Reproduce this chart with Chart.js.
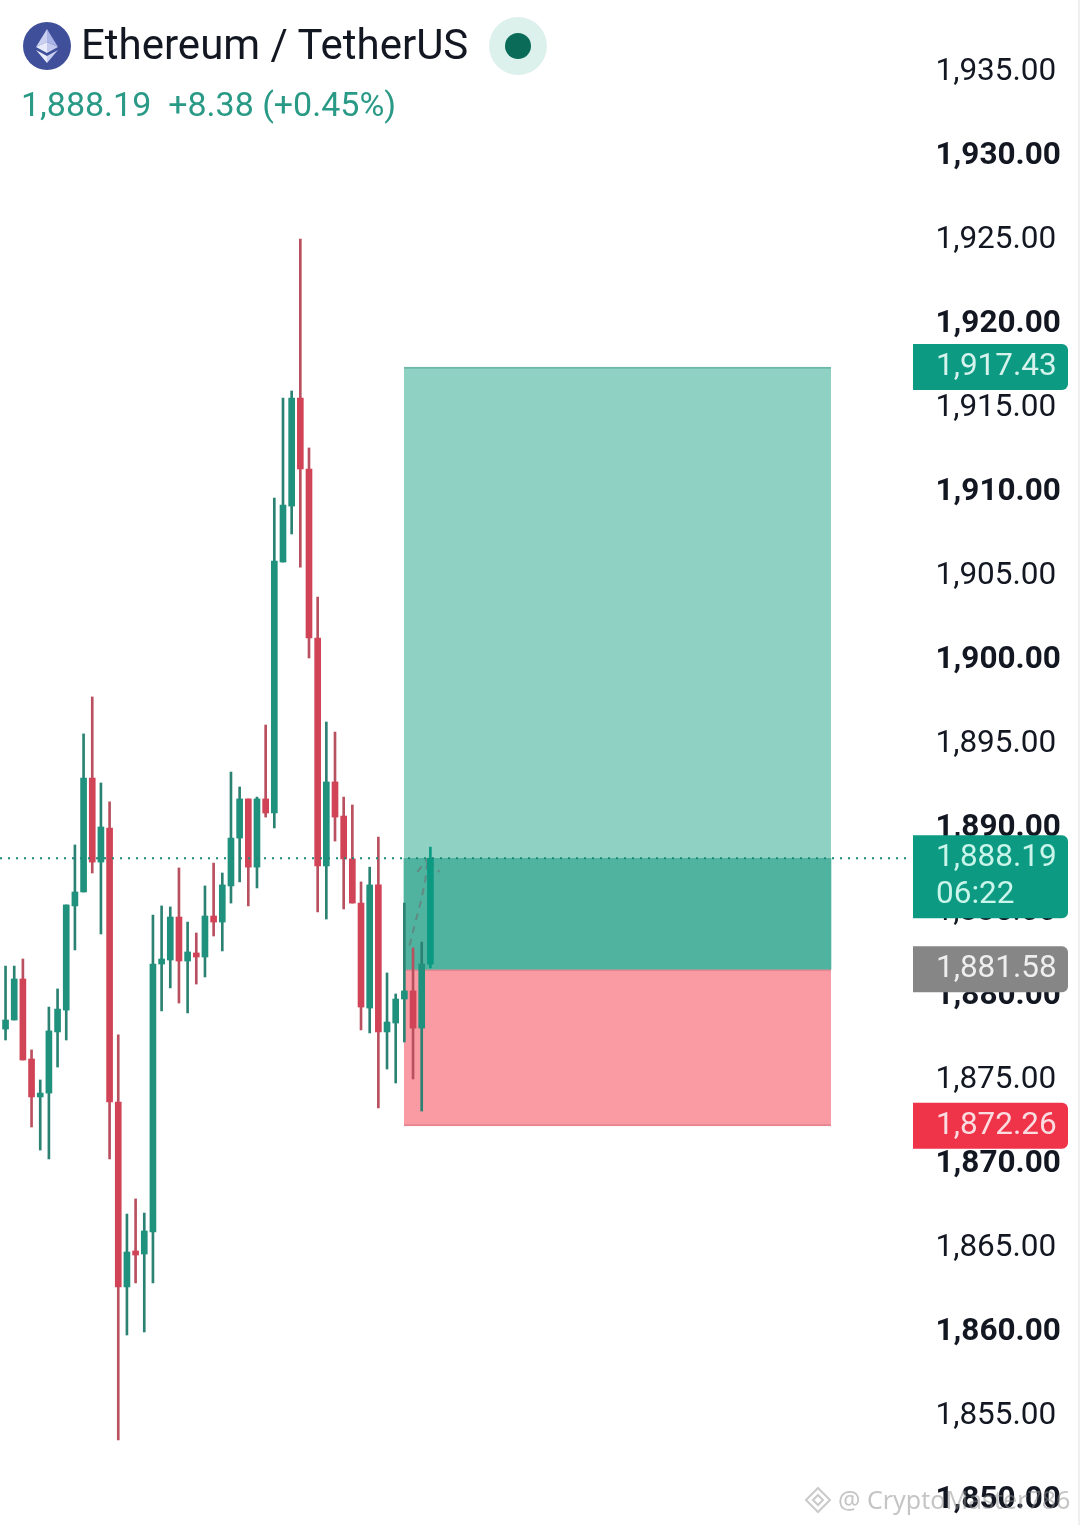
<!DOCTYPE html>
<html>
<head>
<meta charset="utf-8">
<title>Ethereum / TetherUS</title>
<script src="https://cdn.jsdelivr.net/npm/chart.js@4"></script>
<style>
  html, body { margin: 0; padding: 0; background: #fff; }
  #page { position: relative; width: 1080px; height: 1525px; overflow: hidden; font-family: Roboto, sans-serif; }
  #chart { position: absolute; left: 0; top: 0; }
  .abs { position: absolute; white-space: pre; }
  #title { left: 81px; top: 20px; font-size: 42px; line-height: 50px; color: #131722; }
  #quote { left: 21px; top: 84px; font-size: 34px; line-height: 40px; color: #2a9a87; }
  #mark { left: 838px; top: 1484px; font-family: "Noto Sans", sans-serif; font-size: 25px; line-height: 30px; color: rgba(140,140,140,.5); }
  #edge { position: absolute; right: 0; top: 0; width: 2px; height: 1525px; background: #efefef; }
</style>
</head>
<body>
<div id="page">
  <canvas id="chart" width="1080" height="1525"></canvas>
  <svg class="abs" style="left:22px;top:21px" width="50" height="50" viewBox="0 0 50 50">
    <circle cx="25" cy="25" r="24" fill="#3f4f99"/>
    <polygon points="25,8 14,26 25,21" fill="#c9cff0"/>
    <polygon points="25,8 36,26 25,21" fill="#a9b3e6"/>
    <polygon points="25,21 14,26 25,32" fill="#e8ebfa"/>
    <polygon points="25,21 36,26 25,32" fill="#c3caee"/>
    <polygon points="14,29 25,42 25,35" fill="#e8ebfa"/>
    <polygon points="36,29 25,42 25,35" fill="#c9cff0"/>
  </svg>
  <div id="title" class="abs">Ethereum / TetherUS</div>
  <svg class="abs" style="left:489px;top:17px" width="58" height="58" viewBox="0 0 58 58">
    <circle cx="29" cy="29" r="29" fill="#dcf1ec"/>
    <circle cx="29" cy="29" r="13" fill="#0a6b58"/>
  </svg>
  <div id="quote" class="abs">1,888.19  +8.38 (+0.45%)</div>
  <svg class="abs" style="left:804px;top:1486px" width="28" height="28" viewBox="0 0 28 28" fill="none" stroke="rgba(150,150,150,.5)" stroke-width="2">
    <polygon points="14,2 26,14 14,26 2,14"/>
    <polygon points="14,9 19,14 14,19 9,14"/>
  </svg>
  <div id="mark" class="abs">@ CryptoMaster786</div>
  <div id="edge"></div>
</div>
<script>
// Velas, de izquierda a derecha
const opens = [1878.02, 1878.56, 1881.00, 1876.24, 1873.98, 1874.21, 1877.85, 1879.15, 1885.35, 1886.18,
  1892.96, 1887.96, 1889.99, 1873.68, 1862.67, 1864.81, 1864.63, 1865.94, 1881.89, 1882.13,
  1884.69, 1882.07, 1882.55, 1882.31, 1884.75, 1884.39, 1886.54, 1889.39, 1891.72, 1887.66,
  1891.72, 1890.88, 1905.82, 1909.15, 1915.58, 1911.36, 1901.30, 1887.73, 1892.73, 1890.70,
  1888.15, 1885.52, 1879.27, 1886.60, 1877.85, 1878.38, 1879.81, 1880.29, 1878.08, 1881.89];
const highs = [1881.77, 1881.77, 1882.19, 1876.78, 1874.99, 1879.33, 1880.41, 1885.41, 1888.98, 1895.59,
  1897.79, 1892.67, 1891.54, 1877.67, 1867.01, 1867.91, 1867.07, 1884.81, 1885.35, 1885.29,
  1887.61, 1884.39, 1883.74, 1886.54, 1887.90, 1887.31, 1893.32, 1892.43, 1891.72, 1891.83,
  1896.12, 1909.63, 1915.58, 1916.00, 1925.05, 1912.61, 1903.74, 1896.30, 1895.70, 1891.83,
  1891.36, 1886.78, 1887.66, 1889.45, 1881.36, 1880.11, 1885.52, 1882.85, 1883.20, 1888.85];
const lows = [1877.37, 1878.56, 1876.18, 1872.19, 1870.82, 1870.29, 1875.76, 1877.37, 1882.73, 1886.18,
  1887.31, 1883.68, 1870.29, 1853.56, 1859.81, 1862.91, 1859.99, 1862.91, 1879.10, 1880.47,
  1879.57, 1878.98, 1880.70, 1881.12, 1883.56, 1882.67, 1885.52, 1886.78, 1885.35, 1886.42,
  1890.64, 1889.99, 1905.82, 1907.49, 1905.52, 1900.11, 1884.99, 1884.57, 1889.21, 1885.17,
  1885.52, 1877.97, 1877.79, 1873.32, 1875.64, 1874.81, 1877.25, 1875.05, 1873.14, 1881.66];
const closes = [1878.56, 1881.00, 1876.18, 1873.98, 1874.21, 1877.91, 1879.21, 1885.41, 1886.18, 1892.96,
  1887.96, 1890.05, 1873.68, 1862.67, 1864.75, 1864.57, 1866.00, 1881.89, 1882.19, 1884.69,
  1882.07, 1882.61, 1882.31, 1884.75, 1884.39, 1886.60, 1889.39, 1891.72, 1887.66, 1891.72,
  1890.88, 1905.88, 1909.21, 1915.58, 1911.36, 1901.30, 1887.73, 1892.73, 1890.64, 1888.15,
  1885.52, 1879.33, 1886.60, 1877.85, 1878.44, 1879.81, 1880.29, 1878.08, 1881.89, 1888.19];

// Niveles de la posicion larga
const target = 1917.43;
const current = 1888.19;
const entry = 1881.58;
const stop = 1872.26;
const zoneCenter = 70.58;

// Flecha punteada (indice de vela, precio)
const arrowX = [46.6, 47.17, 47.98, 48.44, 48.67, 50.06];
const arrowY = [1882.99, 1884.18, 1885.77, 1886.96, 1888.15, 1887.37];
const headX = [47.5, 48.67];
const headY = [1887.37, 1888.15];

const tickValues = [1935, 1930, 1925, 1920, 1915, 1910, 1905, 1900, 1895, 1890, 1885, 1880, 1875, 1870, 1865, 1860, 1855, 1850];

const fmt = (v) => v.toLocaleString("en-US", { minimumFractionDigits: 2, maximumFractionDigits: 2 });
const last = closes.length - 1;

const bodyColor = (i) => (i === last ? "#0a9a82" : closes[i] >= opens[i] ? "#1f917c" : "#d14356");
const wickColor = (i) => (i === last ? "#0a9a82" : closes[i] >= opens[i] ? "#2b8273" : "#b9505f");

// Etiquetas de precio sobre el eje
const priceTags = [
  { value: target, color: "#0c9a82", top: -23, bottom: 23, lines: [fmt(target)], text: "#d5f3ec" },
  { value: current, color: "#0c9a82", top: -23, bottom: 60, lines: [fmt(current), "06:22"], text: "#c9f5ea" },
  { value: entry, color: "#868686", top: -23, bottom: 23, lines: [fmt(entry)], text: "#eeeeee" },
  { value: stop, color: "#ef3349", top: -23, bottom: 23, lines: [fmt(stop)], text: "#fbdde1" },
];

const tagsPlugin = {
  id: "priceTags",
  afterDraw(chart) {
    const ctx = chart.ctx;
    const y = chart.scales.y;
    ctx.save();
    priceTags.forEach((tag) => {
      const py = y.getPixelForValue(tag.value);
      ctx.fillStyle = tag.color;
      ctx.beginPath();
      ctx.roundRect(913, py + tag.top, 155, tag.bottom - tag.top, [0, 6, 6, 0]);
      ctx.fill();
      ctx.fillStyle = tag.text;
      ctx.font = "31.5px Roboto";
      ctx.textAlign = "left";
      ctx.textBaseline = "middle";
      tag.lines.forEach((line, n) => {
        ctx.fillText(line, 936, py + n * 37);
      });
    });
    ctx.restore();
  },
};

new Chart(document.getElementById("chart"), {
  data: {
    datasets: [
      {
        type: "line",
        order: 1,
        data: [{ x: -0.64, y: current }, { x: 104.32, y: current }],
        borderColor: "#1b8a78",
        borderWidth: 2,
        borderDash: [2, 6],
        pointRadius: 0,
      },
      {
        type: "bar",
        order: 2,
        grouped: false,
        barThickness: 6,
        data: opens.map((o, i) => ({ x: i, y: [o, closes[i]] })),
        backgroundColor: (c) => bodyColor(c.dataIndex),
      },
      {
        type: "bar",
        order: 3,
        grouped: false,
        barThickness: 2,
        data: lows.map((l, i) => ({ x: i, y: [l, highs[i]] })),
        backgroundColor: (c) => wickColor(c.dataIndex),
      },
      {
        type: "line",
        order: 4,
        data: arrowX.map((x, i) => ({ x: x, y: arrowY[i] })),
        borderColor: "rgba(110,110,110,.6)",
        borderWidth: 2,
        borderDash: [7, 6],
        pointRadius: 0,
      },
      {
        type: "line",
        order: 4,
        data: headX.map((x, i) => ({ x: x, y: headY[i] })),
        borderColor: "rgba(110,110,110,.6)",
        borderWidth: 2,
        borderDash: [7, 6],
        pointRadius: 0,
      },
      {
        type: "bar",
        order: 5,
        grouped: false,
        barThickness: 427,
        data: [{ x: zoneCenter, y: [entry, current] }],
        backgroundColor: "#4fb3a0",
      },
      {
        type: "bar",
        order: 6,
        grouped: false,
        barThickness: 427,
        data: [{ x: zoneCenter, y: [entry, target] }],
        backgroundColor: "#8fd1c3",
        borderColor: "#6bb8a8",
        borderWidth: { top: 2, right: 0, bottom: 0, left: 0 },
        borderSkipped: false,
      },
      {
        type: "bar",
        order: 6,
        grouped: false,
        barThickness: 427,
        data: [{ x: zoneCenter, y: [stop, entry] }],
        backgroundColor: "#fa9aa3",
        borderColor: "#e58590",
        borderWidth: { top: 2, right: 0, bottom: 2, left: 0 },
        borderSkipped: false,
      },
    ],
  },
  options: {
    responsive: false,
    animation: false,
    devicePixelRatio: 1,
    events: [],
    layout: { padding: 0 },
    plugins: { legend: { display: false }, tooltip: { enabled: false } },
    scales: {
      x: { type: "linear", display: false, offset: false, min: -0.64, max: 104.32 },
      y: {
        position: "right",
        min: 1848.5,
        max: 1939.275,
        grid: { display: false, drawTicks: false },
        border: { display: false },
        afterBuildTicks: (scale) => {
          scale.ticks = tickValues.map((v) => ({ value: v }));
        },
        afterFit: (scale) => {
          scale.width = 170;
          scale.paddingTop = 0;
          scale.paddingBottom = 0;
        },
        ticks: {
          autoSkip: false,
          crossAlign: "near",
          padding: 25.5,
          labelOffset: 0,
          color: "#131722",
          font: (c) => ({
            family: "Roboto",
            size: 31.5,
            weight: c.tick && c.tick.value % 10 === 0 ? "bold" : "normal",
          }),
          callback: (v) => fmt(v),
        },
      },
    },
  },
  plugins: [tagsPlugin],
});
</script>
</body>
</html>
